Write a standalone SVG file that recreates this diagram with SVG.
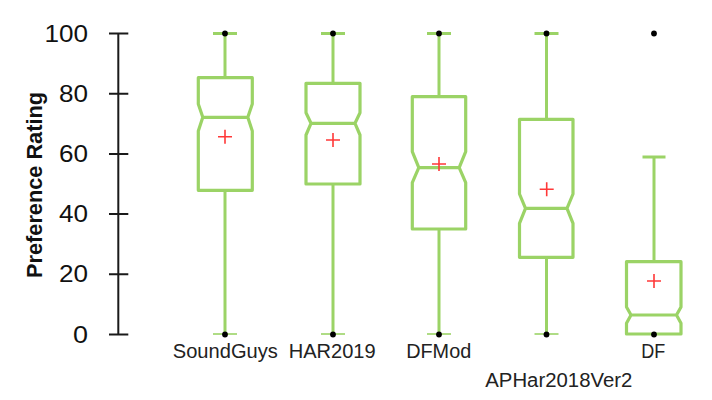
<svg xmlns="http://www.w3.org/2000/svg" width="712" height="400" viewBox="0 0 712 400">
<style>
.bx{fill:none;stroke:#9bd366;stroke-width:3.2;stroke-linejoin:round}
.wh{stroke:#9bd366;stroke-width:3;fill:none}
.cb{stroke:#9bd366;stroke-width:1.6;fill:none}
.mn{stroke:#ff3838;stroke-width:1.6;fill:none}
.ax{stroke:#1a1a1a;stroke-width:2;fill:none}
.tk{font-family:"Liberation Sans",Arial,sans-serif;font-size:23.5px;fill:#111;text-anchor:end}
.lb{font-family:"Liberation Sans",Arial,sans-serif;font-size:19.5px;fill:#222;text-anchor:middle}
.ti{font-family:"Liberation Sans",Arial,sans-serif;font-size:21.5px;font-weight:bold;fill:#111;text-anchor:middle}
</style>
<rect width="712" height="400" fill="#fff"/>
<g id="axis">
<line class="ax" x1="118.3" y1="33.5" x2="118.3" y2="334.5"/>
<path class="ax" d="M109 33.5H128.3M109 93.7H128.3M109 153.9H128.3M109 214.1H128.3M109 274.3H128.3M109 334.5H128.3"/>
<text class="tk" x="88" y="41.5" textLength="43.5" lengthAdjust="spacingAndGlyphs">100</text>
<text class="tk" x="88" y="101.7" textLength="29" lengthAdjust="spacingAndGlyphs">80</text>
<text class="tk" x="88" y="161.9" textLength="29" lengthAdjust="spacingAndGlyphs">60</text>
<text class="tk" x="88" y="222.1" textLength="29" lengthAdjust="spacingAndGlyphs">40</text>
<text class="tk" x="88" y="282.3" textLength="29" lengthAdjust="spacingAndGlyphs">20</text>
<text class="tk" x="88" y="342.5" textLength="15" lengthAdjust="spacingAndGlyphs">0</text>
<text class="ti" transform="translate(41.7 185) rotate(-90)" textLength="186" lengthAdjust="spacingAndGlyphs">Preference Rating</text>
</g>
<g id="connectors">
<path class="wh" d="M225 77.7V33.5M213 33.5H237M225 190.3V334.5"/>
<path class="cb" d="M213 334H237"/>
<path class="wh" d="M333 83.3V33.5M321 33.5H345M333 184V334.5"/>
<path class="cb" d="M321 334H345"/>
<path class="wh" d="M439 96.7V33.5M427 33.5H451M439 229V334.5"/>
<path class="cb" d="M427 334H451"/>
<path class="wh" d="M546.5 119.3V33.5M534.5 33.5H558.5M546.5 257.3V334.5"/>
<path class="cb" d="M534.5 334H558.5"/>
<path class="wh" d="M654 261.7V157M642.5 157H665.5"/>
</g>
<g id="SoundGuys">
<path class="bx" d="M198.3 77.7H252.3V104L247.8 117.3L252.3 131V190.3H198.3V131L202.8 117.3L198.3 104Z M202.8 117.3H247.8"/>
<path class="mn" d="M218 136.7H232M225 129.7V143.7"/>
<circle cx="225" cy="33.5" r="2.9"/><circle cx="225" cy="334.5" r="2.9"/>
<text class="lb" x="225.3" y="358.3" textLength="105" lengthAdjust="spacingAndGlyphs">SoundGuys</text>
</g>
<g id="HAR2019">
<path class="bx" d="M306 83.3H360V112.7L355 123.3L360 135V184H306V135L311 123.3L306 112.7Z M311 123.3H355"/>
<path class="mn" d="M326 140H340M333 133V147"/>
<circle cx="333" cy="33.5" r="2.9"/><circle cx="333" cy="334.5" r="2.9"/>
<text class="lb" x="332.2" y="358.3" textLength="87" lengthAdjust="spacingAndGlyphs">HAR2019</text>
</g>
<g id="DFMod">
<path class="bx" d="M412.3 96.7H465.7V151.7L459.2 167.7L465.7 182.7V229H412.3V182.7L418.8 167.7L412.3 151.7Z M418.8 167.7H459.2"/>
<path class="mn" d="M432 164H446M439 157V171"/>
<circle cx="439" cy="33.5" r="2.9"/><circle cx="439" cy="334.5" r="2.9"/>
<text class="lb" x="438.7" y="358.3" textLength="65" lengthAdjust="spacingAndGlyphs">DFMod</text>
</g>
<g id="APHar2018Ver2">
<path class="bx" d="M519.5 119.3H573V194L567 208.3L573 223.3V257.3H519.5V223.3L525.5 208.3L519.5 194Z M525.5 208.3H567"/>
<path class="mn" d="M539.7 189.3H553.7M546.7 182.3V196.3"/>
<circle cx="546.5" cy="33.5" r="2.9"/><circle cx="546.5" cy="334.5" r="2.9"/>
<text class="lb" x="558.8" y="387.3" textLength="147" lengthAdjust="spacingAndGlyphs">APHar2018Ver2</text>
</g>
<g id="DF">
<path class="bx" d="M626.5 261.7H681V307L676.5 315L681 323.3V334H626.5V323.3L631 315L626.5 307Z M631 315H676.5"/>
<path class="mn" d="M647 281H661M654 274V288"/>
<circle cx="654" cy="33.5" r="2.9"/><circle cx="654" cy="334.5" r="2.9"/>
<text class="lb" x="653.3" y="358.3" textLength="24" lengthAdjust="spacingAndGlyphs">DF</text>
</g>
</svg>
